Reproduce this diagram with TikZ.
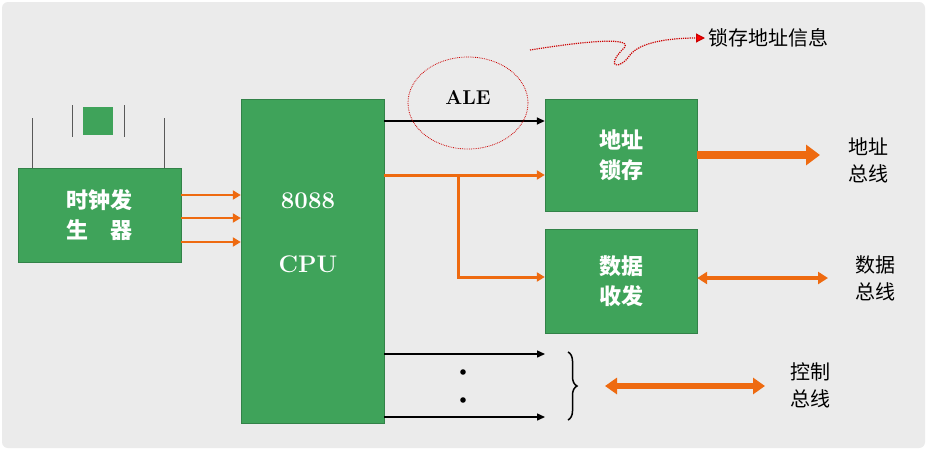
\documentclass[tikz,border=0pt]{standalone}
\usepackage{fontspec}
\newfontfamily\cjk{Noto Sans CJK SC}
\usetikzlibrary{arrows.meta,decorations.pathreplacing}
\definecolor{gbox}{HTML}{3FA35A}
\definecolor{org}{HTML}{EE6A10}
\definecolor{bg}{HTML}{EBEBEB}
\begin{document}
\begin{tikzpicture}[x=1pt,y=-1pt,
  box/.style={draw=gbox!80!black,fill=gbox,text=white,font=\cjk\bfseries\fontsize{22}{30}\selectfont,align=center,inner sep=0},
  lbl/.style={font=\cjk\fontsize{20}{27}\selectfont,align=center},
  oarr/.style={draw=org,line width=3pt,-{Triangle[length=8pt,width=9pt]}},
  barr/.style={draw=black,line width=1.5pt,-{Triangle[length=8pt,width=7pt]}}]
\useasboundingbox (0,0) rectangle (927,456);
\fill[white] (0,0) rectangle (927,456);
\fill[bg,rounded corners=6pt] (2,2) rectangle (925,448);
% crystal
\fill[gbox] (83,107) rectangle (113,135);
\draw[gray!70!black] (72,105)--(72,137) (124,105)--(124,137) (32,118)--(32,168) (164,118)--(164,168);
\node[box,minimum width=163pt,minimum height=94pt] (clk) at (99.5,215) {时钟发\\生\quad 器};
\node[box,minimum width=143pt,minimum height=324pt] (cpu) at (312.5,261) {};
\node[text=white,font=\bfseries\fontsize{24}{30}\selectfont] (c1) at (308,201) {8088};
\node[text=white,font=\bfseries\fontsize{24}{30}\selectfont] (c2) at (308,264) {CPU};
\node[box,minimum width=152pt,minimum height=112pt] (al) at (621,155) {地址\\锁存};
\node[box,minimum width=152pt,minimum height=104pt] (dt) at (621,281) {数据\\收发};
% clock arrows
\foreach \y in {195,218,242}{\draw[oarr,line width=2.5pt] (clk.east |- 0,\y) -- (cpu.west |- 0,\y);}
% ALE
\draw[barr] (cpu.east |- 0,121) -- (al.west |- 0,121);
\node[font=\bfseries\fontsize{20}{24}\selectfont] (ale) at (468,97) {ALE};
\draw[red!80!black,densely dotted,line width=0.8pt] (468,103) ellipse (60pt and 46pt);
\coordinate (s) at (530,50);
\node[lbl,anchor=west] (info) at (705,38) {锁存地址信息};
\draw[red!80!black,densely dotted,line width=1.2pt,-{Triangle[length=9pt,width=9pt,red!80!black,fill=red]}] (s) .. controls (580,42) and (640,35) .. (622,50) .. controls (605,68) and (620,70) .. (630,55) .. controls (640,42) and (670,38) .. (info.west);
% cpu to latch / data
\coordinate (j) at (458,175);
\draw[oarr] (cpu.east |- 0,175) -- (al.west |- 0,175);
\draw[oarr] (j) |- (dt.west |- 0,277);
% buses
\node[lbl] (ab) at (868,160) {地址\\总线};
\node[lbl] (db) at (875,278) {数据\\总线};
\node[lbl] (cb) at (810,385) {控制\\总线};
\draw[org,line width=8pt,-{Triangle[length=14pt,width=20pt]}] (al.east |- 0,155) -- (820,155);
\draw[org,line width=4pt,{Triangle[length=10pt,width=12pt]}-{Triangle[length=10pt,width=12pt]}] (dt.east |- 0,278) -- (828,278);
\draw[org,line width=6pt,{Triangle[length=12pt,width=16pt]}-{Triangle[length=12pt,width=16pt]}] (605,386) -- (765,386);
% control lines
\draw[barr] (cpu.east |- 0,354) -- (545,354);
\draw[barr] (cpu.east |- 0,417) -- (545,417);
\fill (463,372) circle (2.8pt) (463,400) circle (2.8pt);
\draw[line width=1.5pt,decorate,decoration={brace,amplitude=9pt}] (568,352) -- (568,420);
\end{tikzpicture}
\end{document}
